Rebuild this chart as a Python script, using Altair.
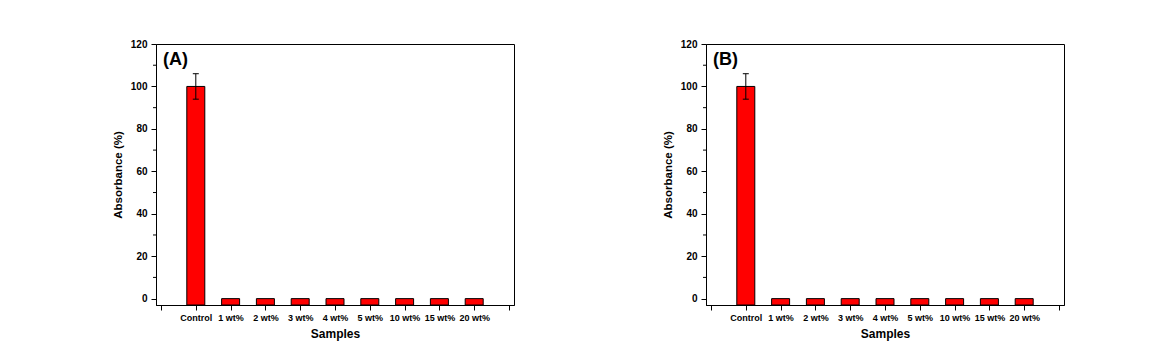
import altair as alt
import pandas as pd

categories = ["Control", "1 wt%", "2 wt%", "3 wt%", "4 wt%", "5 wt%", "10 wt%", "15 wt%", "20 wt%"]
values_A = [100, 0, 0, 0, 0, 0, 0, 0, 0]
errors_A = [6, 0, 0, 0, 0, 0, 0, 0, 0]
values_B = [100, 0, 0, 0, 0, 0, 0, 0, 0]
errors_B = [6, 0, 0, 0, 0, 0, 0, 0, 0]
major_y = [0, 20, 40, 60, 80, 100, 120]
minor_y = [10, 30, 50, 70, 90, 110]
x_ticks = list(range(-1, len(categories) + 1))

FONT = "Liberation Sans"
W, H = 358, 261
YMIN = -3
YTITLE = "Absorbance (%)"

label_list = "[" + ",".join("'" + c + "'" for c in categories) + "]"
label_expr = f"datum.value >= 0 && datum.value < {len(categories)} ? {label_list}[datum.value] : ''"

xscale = alt.Scale(domain=[-1, len(categories)], nice=False, zero=False)
xaxis = alt.Axis(values=x_ticks, labelExpr=label_expr, title="Samples",
                 grid=False, tickSize=5, tickColor="black", domainColor="black",
                 labelFont=FONT, labelFontSize=9, labelFontWeight="bold",
                 labelColor="black", labelPadding=3, labelAngle=0,
                 labelOverlap=False, labelFlush=False, labelBound=False,
                 titleFont=FONT, titleFontSize=12, titleFontWeight="bold",
                 titleColor="black", titlePadding=6)
yscale = alt.Scale(domain=[YMIN, 120], nice=False, zero=False)
yaxis = alt.Axis(values=major_y, title=YTITLE, grid=False, tickSize=5,
                 tickColor="black", domainColor="black",
                 labelFont=FONT, labelFontSize=10, labelFontWeight="bold",
                 labelColor="black", labelPadding=4, labelOverlap=False,
                 titleFont=FONT, titleFontSize=11.5, titleFontWeight="bold",
                 titleColor="black", titlePadding=7)


def panel(tag, values, errors):
    df = pd.DataFrame({
        "idx": list(range(len(categories))),
        "cat": categories,
        "value": values,
        "lo": [v - e for v, e in zip(values, errors)],
        "hi": [v + e for v, e in zip(values, errors)],
        "err": errors,
    })
    bars = alt.Chart(df).mark_bar(size=18, color="#FF0000", stroke="black", strokeWidth=1).encode(
        x=alt.X("idx:Q", scale=xscale, axis=xaxis),
        y=alt.Y("value:Q", scale=yscale, axis=yaxis),
        y2=alt.datum(YMIN),
    )
    err = alt.Chart(df).transform_filter("datum.err > 0").mark_errorbar(
        orient="vertical", ticks=alt.MarkConfig(size=6, color="black", opacity=1),
        color="black", thickness=1, opacity=1
    ).encode(
        x=alt.X("idx:Q", scale=xscale, axis=xaxis),
        y=alt.Y("lo:Q", scale=yscale, axis=yaxis),
        y2="hi:Q",
    )
    minor = alt.Chart(pd.DataFrame({"m": minor_y})).mark_rule(color="black", strokeWidth=1, clip=False).encode(
        y=alt.Y("m:Q", scale=yscale, axis=yaxis),
        x=alt.value(-3), x2=alt.value(0),
    )
    text = alt.Chart(pd.DataFrame({"t": [tag]})).mark_text(
        font=FONT, fontSize=18, fontWeight="bold", align="left", baseline="middle", color="black"
    ).encode(text="t:N", x=alt.value(7), y=alt.value(16))
    return alt.layer(bars, err, minor, text).properties(width=W, height=H)


chart = alt.hconcat(
    panel("(A)", values_A, errors_A),
    panel("(B)", values_B, errors_B),
    spacing=146,
).properties(
    padding={"left": 111, "top": 38, "right": 5, "bottom": 5},
    background="white",
).configure_view(stroke="black", strokeWidth=1)

chart.save("out.html", embed_options={"renderer": "svg", "actions": False})
